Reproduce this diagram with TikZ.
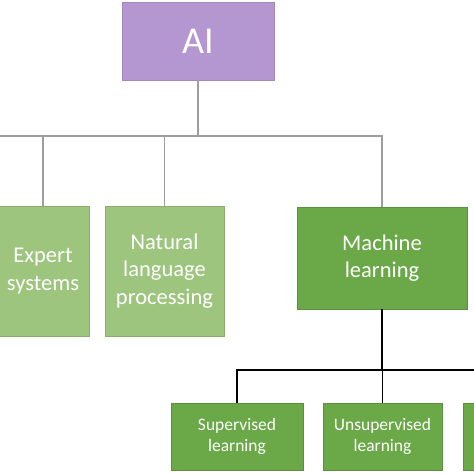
\documentclass[tikz,border=0pt]{standalone}
\usepackage{fontspec}
\setmainfont{Carlito}
\usetikzlibrary{positioning}
\definecolor{lilas}{RGB}{180,150,208}
\definecolor{vertclair}{RGB}{157,197,126}
\definecolor{vertfonce}{RGB}{106,168,72}
\definecolor{gristrait}{RGB}{158,158,158}

\begin{document}
\begin{tikzpicture}[x=1pt, y=-1pt,
		boite/.style={inner sep=0pt, text=white, align=center},
		racine/.style={boite, fill=lilas, draw=lilas!90!black, line width=0.6pt,
			minimum width=152pt, minimum height=78pt,
			font=\fontsize{38}{40}\selectfont},
		domaine/.style={boite, fill=vertclair, draw=vertclair!88!black, line width=0.6pt,
			minimum height=130pt,
			font=\fontsize{22.5}{27.5}\selectfont},
		sousdomaine/.style={boite, fill=vertfonce, draw=vertfonce!85!black, line width=0.6pt,
			minimum height=67pt,
			font=\fontsize{17.5}{21}\selectfont},
		lien/.style={draw=gristrait, line width=1.6pt},
		liennoir/.style={draw=black, line width=1.5pt}
		]
		\useasboundingbox (0,0) rectangle (474,474);
		\clip (0,0) rectangle (474,474);
		
		% Racine
		\node[racine] (ai) at (198,41) {AI};
		
		% Domaines
		\node[domaine, minimum width=92pt] (es) at (43,271) {Expert\\systems};
		\node[domaine, minimum width=119pt] (nlp) at (164.5,271) {Natural\\language\\processing};
		\node[domaine, fill=vertfonce, draw=vertfonce!85!black,
			minimum width=170pt, minimum height=102pt] (ml) at (382,258) {Machine\\learning};
		
		% Sous-domaines
		\node[sousdomaine, minimum width=132pt] (sl) at (237,436.5) {Supervised\\learning};
		\node[sousdomaine, minimum width=119pt] (ul) at (382.5,436.5) {Unsupervised\\learning};
		\node[sousdomaine, minimum width=120pt] (rl) at (523,436.5) {};
		
		% Traits
		\coordinate (bus1) at (198,136);
		\coordinate (bus1g) at (-5,136);
		\coordinate (bus2) at (382,370);
		
		\draw[lien] (ai) -- (bus1);
		\draw[lien] (bus1g) -- (bus1);
		\foreach \e in {es, nlp, ml}
		\draw[lien] (bus1) -| (\e.north);
		
		\draw[liennoir] (ml) -- (bus2);
		\foreach \e in {sl, ul, rl}
		\draw[liennoir] (bus2) -| (\e.north);
	\end{tikzpicture}
\end{document}
